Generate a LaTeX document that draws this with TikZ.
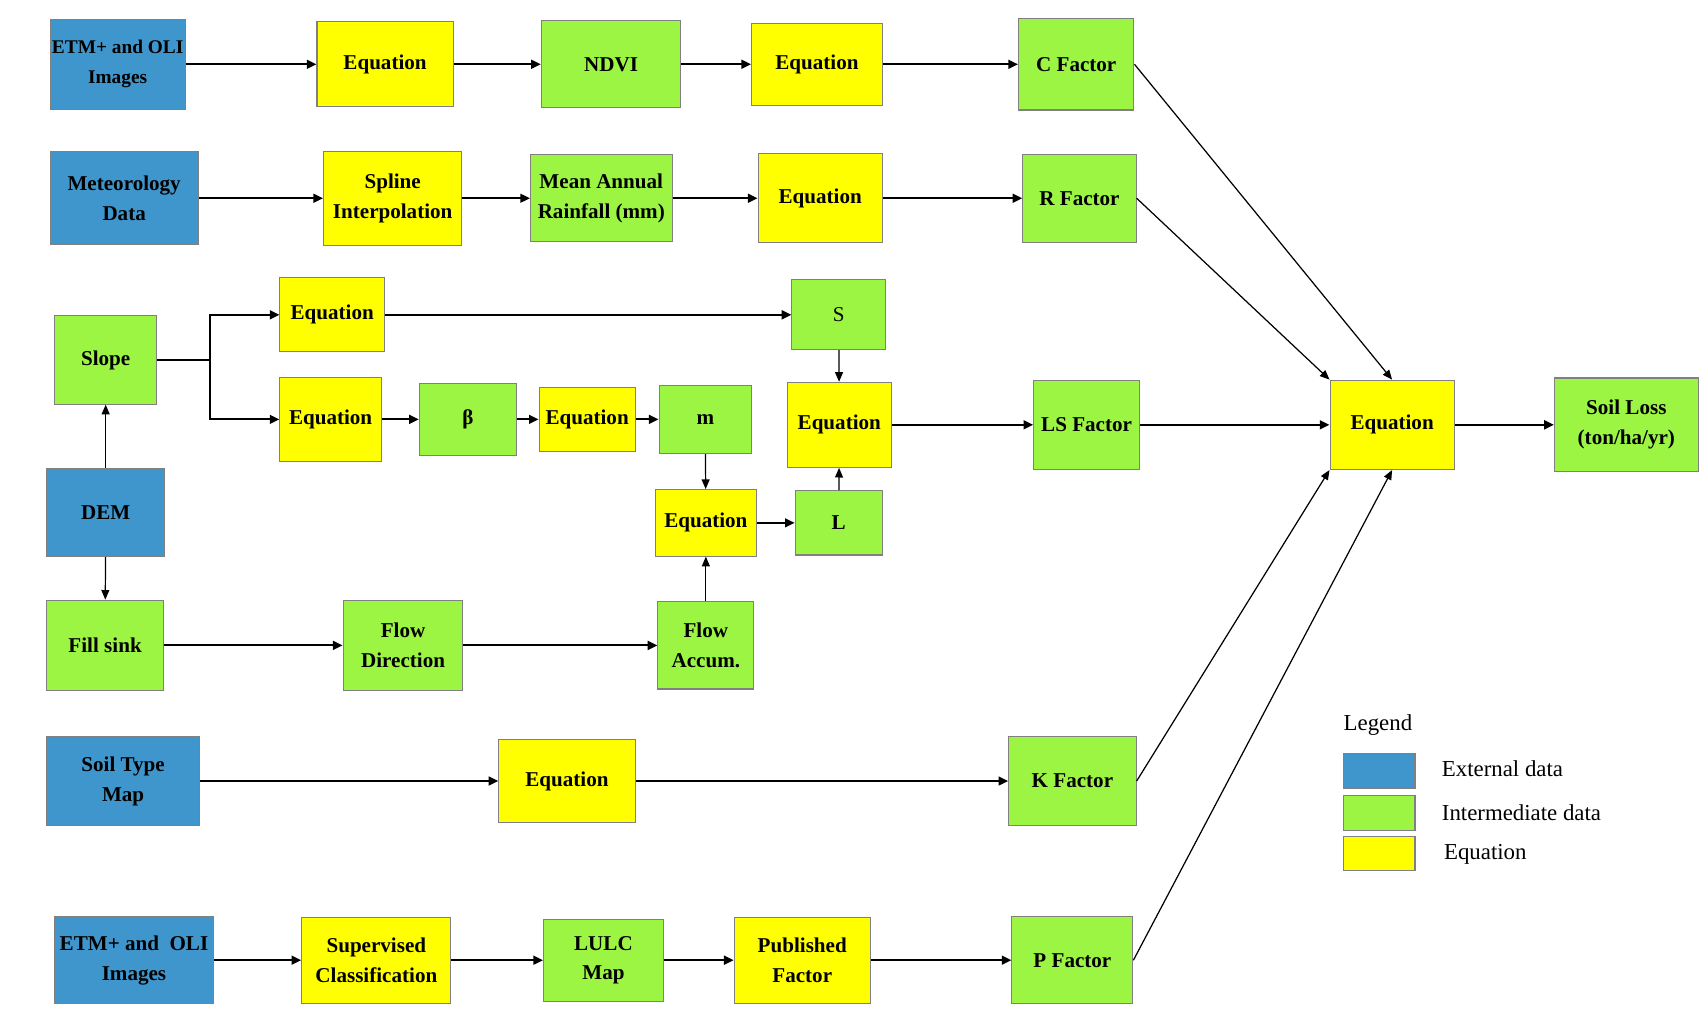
\documentclass[tikz,border=0pt]{standalone}
\usepackage{fontspec}
\setmainfont{Liberation Serif}
\usetikzlibrary{arrows.meta}

\definecolor{extblue}{HTML}{3F96CC}
\definecolor{midgreen}{HTML}{9CF542}
\definecolor{eqyellow}{HTML}{FFFF00}

\tikzset{
  wh/.style 2 args={minimum width=#1*0.021786cm, minimum height=#2*0.021786cm},
  blk/.style={draw=black!50, line width=0.6pt, inner sep=0pt, align=center,
    font=\fontsize{12}{17}\selectfont\bfseries},
  ext/.style={blk, fill=extblue},
  mid/.style={blk, fill=midgreen},
  eqn/.style={blk, fill=eqyellow},
  arr/.style={-{Triangle[length=5.5pt, width=5pt]}, line width=1.2pt},
  thinarr/.style={-{Triangle[length=5.5pt, width=4.5pt]}, line width=0.7pt},
  legtxt/.style={anchor=west, font=\fontsize{13}{15}\selectfont}
}

\begin{document}
\begin{tikzpicture}[x=0.021786cm, y=-0.021786cm]
\useasboundingbox (0,0) rectangle (1568,939);

% C factor
\node[ext, wh={124}{83}, font=\fontsize{11}{17}\selectfont\bfseries] (etmA) at (108,59) {ETM+ and OLI\\Images};
\node[eqn, wh={125}{78}] (eqNdvi) at (353.5,59) {Equation};
\node[mid, wh={128}{80}] (ndvi) at (561,59) {NDVI};
\node[eqn, wh={120}{75}] (eqC) at (750,59) {Equation};
\node[mid, wh={106}{84}] (cfac) at (988,59) {C Factor};

% R factor
\node[ext, wh={136}{85}] (meteo) at (114,182) {Meteorology\\Data};
\node[eqn, wh={127}{86}] (spline) at (360.5,182) {Spline\\Interpolation};
\node[mid, wh={130}{80}] (rain) at (552,182) {Mean Annual\\Rainfall (mm)};
\node[eqn, wh={114}{82}] (eqR) at (753,182) {Equation};
\node[mid, wh={104}{81}] (rfac) at (991,182) {R Factor};

% LS factor
\node[mid, wh={94}{81}] (slope) at (97,330.5) {Slope};
\node[eqn, wh={96}{68}] (eqS) at (305,289) {Equation};
\node[mid, wh={86}{64}, font=\fontsize{12}{17}\selectfont] (sfac) at (770,289) {S};
\node[eqn, wh={93}{77}] (eqBeta) at (303.5,385) {Equation};
\node[mid, wh={89}{66}] (beta) at (429.5,385) {β};
\node[eqn, wh={88}{59}] (eqM) at (539,385) {Equation};
\node[mid, wh={85}{63}] (mfac) at (647.5,385) {m};
\node[eqn, wh={95}{78}] (eqLS) at (770.5,390) {Equation};
\node[mid, wh={97}{82}] (lsfac) at (997.5,390) {LS Factor};
\node[ext, wh={108}{81}] (dem) at (97,470.5) {DEM};
\node[eqn, wh={93}{61}] (eqL) at (648,480) {Equation};
\node[mid, wh={80}{59}] (lfac) at (770,480) {L};
\node[mid, wh={107}{83}] (fill) at (96.5,592.5) {Fill sink};
\node[mid, wh={110}{83}] (flowdir) at (370,592.5) {Flow\\Direction};
\node[mid, wh={88}{80}] (flowacc) at (648,592.5) {Flow\\Accum.};
\coordinate (split) at (193,330.5);

% K factor
\node[ext, wh={140}{81}] (soiltype) at (113,717) {Soil Type\\Map};
\node[eqn, wh={125}{77}] (eqK) at (520.5,717) {Equation};
\node[mid, wh={117}{82}] (kfac) at (984.5,717) {K Factor};

% P factor
\node[ext, wh={146}{80}] (etmB) at (123,881.5) {ETM+ and\enspace OLI\\Images};
\node[eqn, wh={137}{79}] (superv) at (345.5,881.5) {Supervised\\Classification};
\node[mid, wh={110}{75}] (lulc) at (554,881.5) {LULC\\Map};
\node[eqn, wh={125}{79}] (publ) at (736.5,881.5) {Published\\Factor};
\node[mid, wh={111}{80}] (pfac) at (984.5,881.5) {P Factor};

% soil loss
\node[eqn, wh={114}{82}] (eqFinal) at (1278,390) {Equation};
\node[mid, wh={132}{86}] (soilloss) at (1493,390) {Soil Loss\\(ton/ha/yr)};

% legend
\node[font=\fontsize{13}{15}\selectfont] (legTitle) at (1265,666) {Legend};
\node[ext, wh={66}{32}] (legExt) at (1266,708) {};
\node[mid, wh={66}{32}] (legMid) at (1266,746) {};
\node[eqn, wh={66}{31}] (legEqn) at (1266,783.5) {};
\node[legtxt] (txtExt) at (1318,706) {External data};
\node[legtxt] (txtMid) at (1318,746) {Intermediate data};
\node[legtxt] (txtEqn) at (1320,784) {Equation};

% arrows
\draw[arr] (etmA) -- (eqNdvi);
\draw[arr] (eqNdvi) -- (ndvi);
\draw[arr] (ndvi) -- (eqC);
\draw[arr] (eqC) -- (cfac);

\draw[arr] (meteo) -- (spline);
\draw[arr] (spline) -- (rain);
\draw[arr] (rain) -- (eqR);
\draw[arr] (eqR) -- (rfac);

\draw[line width=1.2pt] (slope) -- (split);
\draw[arr] (split) |- (eqS);
\draw[arr] (split) |- (eqBeta);
\draw[arr] (eqS) -- (sfac);
\draw[arr] (eqBeta) -- (beta);
\draw[arr] (beta) -- (eqM);
\draw[arr] (eqM) -- (mfac);
\draw[thinarr] (mfac) -- (eqL);
\draw[arr] (eqL) -- (lfac);
\draw[thinarr] (sfac) -- (eqLS);
\draw[thinarr] (lfac) -- (eqLS);
\draw[arr] (eqLS) -- (lsfac);
\draw[thinarr] (dem) -- (slope);
\draw[thinarr] (dem) -- (fill);
\draw[arr] (fill) -- (flowdir);
\draw[arr] (flowdir) -- (flowacc);
\draw[thinarr] (flowacc) -- (eqL);

\draw[arr] (soiltype) -- (eqK);
\draw[arr] (eqK) -- (kfac);

\draw[arr] (etmB) -- (superv);
\draw[arr] (superv) -- (lulc);
\draw[arr] (lulc) -- (publ);
\draw[arr] (publ) -- (pfac);

\draw[thinarr] (cfac.east) -- (eqFinal.north);
\draw[thinarr] (rfac.east) -- (eqFinal.north west);
\draw[arr] (lsfac) -- (eqFinal);
\draw[thinarr] (kfac.east) -- (eqFinal.south west);
\draw[thinarr] (pfac.east) -- (eqFinal.south);
\draw[arr] (eqFinal) -- (soilloss);
\end{tikzpicture}
\end{document}
